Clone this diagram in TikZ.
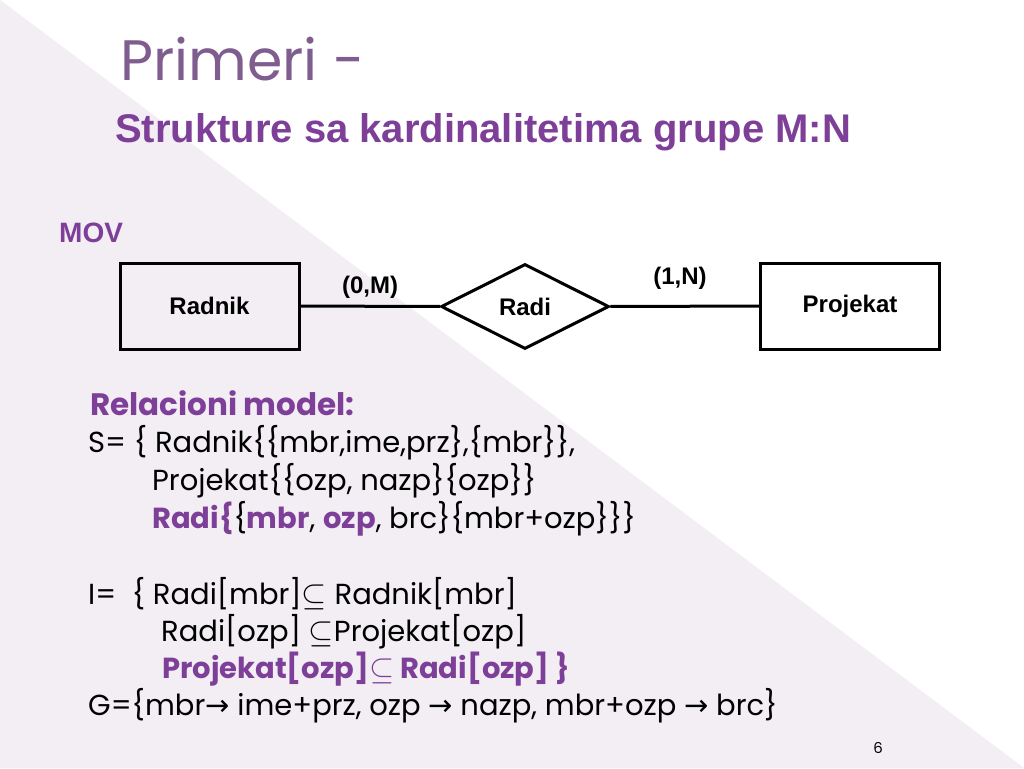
\documentclass[tikz,border=0pt]{standalone}
\usepackage{fontspec}
\setmainfont{Poppins}
\newfontfamily\boldsans{Liberation Sans}
\newfontfamily\djv{DejaVu Sans}
\usetikzlibrary{shapes.geometric}
\definecolor{lav}{HTML}{F2EEF4}
\definecolor{pur}{HTML}{7E3F98}
\definecolor{tit}{HTML}{7F5E8F}
\tikzset{
  ent/.style={draw=black,line width=3pt,minimum width=179pt,minimum height=86pt,font=\boldsans\bfseries\fontsize{24}{28}\selectfont},
  rel/.style={draw=black,line width=3pt,diamond,aspect=2,minimum width=168pt,minimum height=85pt,inner sep=0pt,font=\boldsans\bfseries\fontsize{24}{28}\selectfont},
  card/.style={font=\boldsans\bfseries\fontsize{24}{28}\selectfont},
  txt/.style={anchor=base west,inner sep=0pt,font=\fontsize{29}{33}\selectfont},
  conn/.style={line width=3pt}
}
\newcommand{\sbs}{\raisebox{-1pt}{\scalebox{1.3}{$\subseteq$}}}
\newcommand{\ar}{{\djv →}}
\begin{document}
\begin{tikzpicture}[x=1pt,y=-1pt]
\useasboundingbox (0,0) rectangle (1024,768);
\fill[white] (0,0) rectangle (1024,768);
\fill[lav] (0,0) -- (1024,768) -- (0,768) -- cycle;
\node[anchor=base west,inner sep=0pt,text=tit,font=\fontsize{57}{60}\selectfont] (title) at (120,80) {Primeri -};
\node[anchor=base west,inner sep=0pt,text=pur,font=\boldsans\bfseries\fontsize{40}{44}\selectfont] (sub) at (115,142) {Strukture sa kardinalitetima grupe M:N};
\node[anchor=base west,inner sep=0pt,text=pur,font=\boldsans\bfseries\fontsize{28}{32}\selectfont] (mov) at (59,242) {MOV};
\node[ent] (radnik) at (209.5,306) {Radnik};
\node[ent] (proj) at (850,306) {Projekat};
\node[rel] (radi) at (525,306.5) {Radi};
\draw[conn] (radnik) -- (radi);
\draw[conn] (radi) -- (proj);
\node[card] (c1) at (370,287) {(0,M)};
\node[card] (c2) at (680,278) {(1,N)};
\node[txt,text=pur,font=\bfseries\fontsize{31}{35}\selectfont] (rm) at (90,415) {Relacioni model:};
\node[txt] (l1) at (88,452) {S= \{ Radnik\{\{mbr,ime,prz\},\{mbr\}\},};
\node[txt] (l2) at (152,490) {Projekat\{\{ozp, nazp\}\{ozp\}\}};
\node[txt] (l3) at (152,528) {\textcolor{pur}{\bfseries Radi\{}\{\textcolor{pur}{\bfseries mbr}, \textcolor{pur}{\bfseries ozp}, brc\}\{mbr+ozp\}\}\}};
\node[txt] (l4) at (88,604) {I= \ \{ Radi[mbr]\sbs\ Radnik[mbr]};
\node[txt] (l5) at (161,641) {Radi[ozp] \sbs Projekat[ozp]};
\node[txt,text=pur] (l6) at (162,678) {\bfseries Projekat[ozp]\sbs\ Radi[ozp] \}};
\node[txt] (l7) at (88,715) {G=\{mbr\ar\ ime+prz, ozp \ar\ nazp, mbr+ozp \ar\ brc\}};
\node[anchor=base,inner sep=0pt,font=\fontsize{15}{17}\selectfont] (pg) at (878,753) {6};
\end{tikzpicture}
\end{document}
